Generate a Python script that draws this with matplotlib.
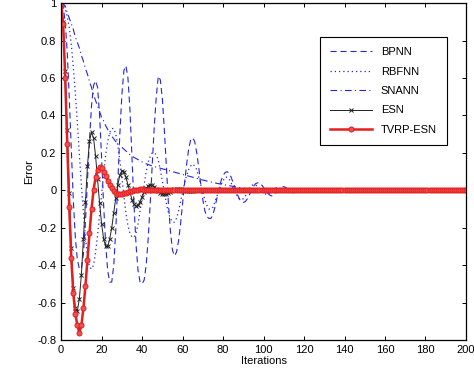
import numpy as np
import matplotlib
matplotlib.use("Agg")
import matplotlib.pyplot as plt
from matplotlib.ticker import FuncFormatter

plt.rcParams['font.family'] = ['Liberation Sans', 'DejaVu Sans']

iterations = np.arange(0, 201)

# error per iteration (tail is flat at zero)
bpnn_head = [1.00, 0.98, 0.90, 0.74, 0.50, 0.22, -0.05, -0.25, -0.37, -0.42,
             -0.42, -0.34, -0.17, 0.05, 0.27, 0.45, 0.56, 0.585, 0.55, 0.40,
             0.17, -0.08, -0.29, -0.43, -0.49, -0.49, -0.40, -0.21, 0.04, 0.30,
             0.51, 0.64, 0.665, 0.60, 0.43, 0.18, -0.08, -0.29, -0.43, -0.49,
             -0.50, -0.48, -0.40, -0.26, -0.07, 0.14, 0.34, 0.50, 0.61, 0.59,
             0.49, 0.32, 0.12, -0.07, -0.22, -0.32, -0.35, -0.33, -0.27, -0.18,
             -0.07, 0.04, 0.14, 0.22, 0.27, 0.28, 0.26, 0.20, 0.12, 0.03,
             -0.05, -0.11, -0.14, -0.15, -0.15, -0.13, -0.09, -0.04, 0.01, 0.05,
             0.08, 0.095, 0.10, 0.09, 0.07, 0.04, 0.01, -0.02, -0.045, -0.06,
             -0.065, -0.06, -0.045, -0.025, 0.0, 0.02, 0.035, 0.04, 0.04, 0.03,
             0.015, 0.0, -0.015, -0.025, -0.03, -0.025, -0.015, 0.0, 0.01, 0.018,
             0.02, 0.015, 0.005, -0.005, -0.012, -0.012, -0.006, 0.0, 0.006, 0.008,
             0.005]
rbfnn_head = [1.00, 0.99, 0.97, 0.93, 0.87, 0.78, 0.66, 0.52, 0.36, 0.19,
              0.03, -0.12, -0.25, -0.35, -0.41, -0.42, -0.40, -0.33, -0.24, -0.13,
              -0.02, 0.09, 0.19, 0.26, 0.31, 0.33, 0.33, 0.30, 0.24, 0.16,
              0.07, -0.03, -0.12, -0.19, -0.23, -0.25, -0.25, -0.23, -0.18, -0.11,
              -0.04, 0.03, 0.10, 0.15, 0.18, 0.20, 0.20, 0.19, 0.16, 0.11,
              0.05, -0.01, -0.07, -0.12, -0.15, -0.17, -0.17, -0.15, -0.11, -0.06,
              -0.01, 0.04, 0.08, 0.11, 0.13, 0.14, 0.13, 0.11, 0.07, 0.03,
              -0.01, -0.05, -0.08, -0.10, -0.10, -0.09, -0.06, -0.03, 0.00, 0.03,
              0.05, 0.07, 0.07, 0.06, 0.04, 0.01, -0.01, -0.03, -0.045, -0.05,
              -0.045, -0.03, -0.01, 0.01, 0.025, 0.03, 0.03, 0.02, 0.01, -0.005,
              -0.015, -0.02, -0.02, -0.015, -0.005, 0.005, 0.012, 0.015, 0.012, 0.005,
              -0.003, -0.008, -0.01, -0.008, -0.003, 0.002, 0.006, 0.007, 0.005, 0.001]
snann_head = [1.00, 0.995, 0.985, 0.95, 0.92, 0.89, 0.86, 0.82, 0.79, 0.76,
              0.72, 0.69, 0.65, 0.62, 0.58, 0.55, 0.51, 0.48, 0.45, 0.42,
              0.39, 0.37, 0.345, 0.325, 0.305, 0.29, 0.275, 0.26, 0.25, 0.24,
              0.23, 0.22, 0.21, 0.20, 0.19, 0.183, 0.176, 0.17, 0.164, 0.158,
              0.152, 0.147, 0.142, 0.138, 0.134, 0.13, 0.127, 0.124, 0.121, 0.118,
              0.115, 0.112, 0.109, 0.106, 0.103, 0.10, 0.097, 0.094, 0.091, 0.088,
              0.085, 0.082, 0.079, 0.076, 0.073, 0.07, 0.067, 0.064, 0.061, 0.058,
              0.055, 0.052, 0.05, 0.047, 0.045, 0.042, 0.04, 0.037, 0.035, 0.033,
              0.031, 0.029, 0.027, 0.025, 0.023, 0.021, 0.019, 0.017, 0.015, 0.013,
              0.012, 0.010, 0.009, 0.007, 0.006, 0.005, 0.004, 0.003, 0.002, 0.001]
esn_head = [1.00, 0.90, 0.64, 0.32, -0.015, -0.31, -0.52, -0.63, -0.645, -0.58,
            -0.45, -0.26, -0.06, 0.13, 0.265, 0.31, 0.28, 0.185, 0.06, -0.07,
            -0.18, -0.26, -0.30, -0.30, -0.26, -0.20, -0.12, -0.04, 0.03, 0.08,
            0.105, 0.10, 0.07, 0.03, -0.01, -0.05, -0.075, -0.085, -0.08, -0.06,
            -0.035, -0.01, 0.01, 0.025, 0.03, 0.028, 0.02, 0.008, -0.004, -0.013,
            -0.018, -0.02, -0.02, -0.015, -0.008, 0.0, 0.005, 0.008, 0.008, 0.006,
            0.003, 0.0, -0.002, -0.003, -0.003, -0.002, 0.0, 0.001, 0.001, 0.0]
tvrp_head = [1.00, 0.89, 0.60, 0.25, -0.09, -0.36, -0.55, -0.66, -0.72, -0.76,
             -0.72, -0.63, -0.51, -0.37, -0.23, -0.10, 0.00, 0.07, 0.11, 0.125,
             0.12, 0.10, 0.075, 0.05, 0.03, 0.01, -0.005, -0.013, -0.017, -0.018,
             -0.017, -0.015, -0.012, -0.009, -0.006, -0.003, 0.0, 0.002, 0.004, 0.005,
             0.005, 0.004, 0.003, 0.002, 0.001, 0.0]

def pad(head):
    return np.array(head + [0.0] * (len(iterations) - len(head)))

bpnn = pad(bpnn_head)
rbfnn = pad(rbfnn_head)
snann = pad(snann_head)
esn = pad(esn_head)
tvrp = pad(tvrp_head)

fig = plt.figure(figsize=(4.74, 3.9), dpi=100)
ax = fig.add_axes([0.129, 0.128, 0.854, 0.864])

blue = '#2525e0'
ax.plot(iterations, bpnn, '--', color=blue, lw=0.8, dashes=(5.5, 3.5), label='BPNN')
ax.plot(iterations, rbfnn, ':', color=blue, lw=0.9, dashes=(1, 2.4), label='RBFNN')
ax.plot(iterations, snann, '-.', color=blue, lw=0.8, dashes=(6, 3, 1, 3), label='SNANN')
ax.plot(iterations, esn, '-', color='#222222', lw=0.7, marker='x', ms=3.2, mew=0.7, label='ESN')
ax.plot(iterations, tvrp, '-', color='#e41e1e', lw=1.8, marker='o', ms=3.6, mew=0.7,
        mfc='#f05050', label='TVRP-ESN')

ax.set_xlim(0, 200)
ax.set_ylim(-0.8, 1)
ax.set_xticks(np.arange(0, 201, 20))
ax.set_yticks(np.arange(-0.8, 1.01, 0.2))
ax.yaxis.set_major_formatter(FuncFormatter(lambda v, p: '%g' % (round(v, 1) + 0.0)))
ax.tick_params(direction='in', top=True, right=True, labelsize=8, length=3, width=0.7)
for s in ax.spines.values():
    s.set_linewidth(0.9)
ax.set_xlabel('Iterations', fontsize=8, labelpad=1)
ax.set_ylabel('Error', fontsize=8, labelpad=2.5)

leg = ax.legend(loc='upper right', bbox_to_anchor=(0.953, 0.899), fontsize=8,
                handlelength=3.8, labelspacing=0.85, borderpad=0.9, borderaxespad=0,
                fancybox=False, framealpha=1, edgecolor='black', numpoints=1)
leg.get_frame().set_linewidth(0.8)

plt.savefig('out.png', dpi=100)
